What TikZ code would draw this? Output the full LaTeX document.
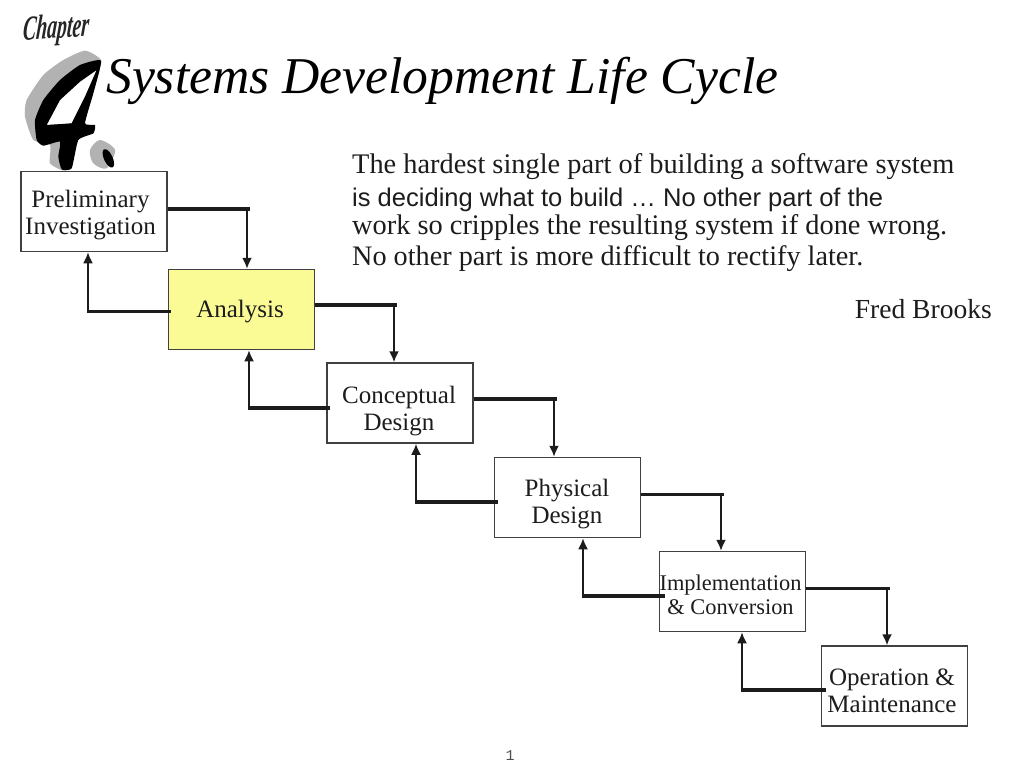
\documentclass[tikz,border=0pt]{standalone}
\usepackage{fontspec}
\usepackage{graphicx}
\setmainfont{Liberation Serif}
\newfontfamily\arialf{Liberation Sans}
\newfontfamily\monof{Liberation Mono}
\usetikzlibrary{arrows.meta,calc}
\definecolor{boxyellow}{RGB}{251,251,150}
\definecolor{ink}{RGB}{28,28,28}
\newcommand{\fitw}[2]{\resizebox{#1pt}{!}{\strut #2}}
% text of a stage: #1 sideways kern, #2 height of the top strut, #3 lines
\newcommand{\stxt}[3]{\begin{tabular}{@{}c@{}}\rule{0pt}{#2pt}#3\end{tabular}\kern#1pt}
\tikzset{
  x=1pt,y=-1pt,
  stage/.style={draw=black!75,line width=1.5pt,minimum width=146pt,minimum height=80pt,inner sep=0pt,font=\fontsize{25}{27}\selectfont,text=ink},
  heavy/.style={line width=3.2pt,ink},
  thinarrow/.style={line width=1.8pt,ink,-{Latex[length=11pt,width=10pt]}},
  quote/.style={anchor=base west,inner sep=0pt,text=ink},
}
\begin{document}
\begin{tikzpicture}
\useasboundingbox (0,0) rectangle (1024,768);
% logo, in the coordinates of a threefold enlargement
\begin{scope}[scale=1/3]
\fill[black!30] plot[smooth cycle,tension=0.35] coordinates {(75,350)(80,300)(130,225)(190,180)(255,152)(303,180)(290,240)(250,360)(225,440)(215,500)(190,512)(150,490)(150,435)(100,420)};
\fill[white] (290,210) -- (240,245) -- (180,300) -- (140,375) -- (215,370) -- (255,290) -- cycle;
\fill[black,even odd rule] plot[smooth cycle,tension=0.3] coordinates {(303,182)(240,195)(180,240)(130,300)(105,360)(110,420)(130,437)(180,425)(175,470)(185,508)(215,505)(235,420)(280,400)(285,375)(255,370)(280,280)}
  (290,210) -- (240,245) -- (180,300) -- (140,375) -- (215,370) -- (255,290) -- cycle;
\fill[black!30] plot[smooth cycle,tension=0.5] coordinates {(270,450)(300,420)(345,450)(320,505)(280,490)};
\fill[black,rotate around={25:(325,475)}] (325,475) ellipse (13 and 30);
\end{scope}
\node[inner sep=0pt,rotate=4,xslant=0.15,text=black!85] (chap) at (56,30) {\resizebox{66pt}{24pt}{\bfseries\itshape Chapter}};
% title
\node[quote,text=black] (title) at (106,93) {\fitw{672}{\itshape Systems Development Life Cycle}};
% quote
\node[quote] (q1) at (352,173.5) {\fitw{602}{The hardest single part of building a software system}};
\node[quote] (q2) at (352,206) {\fitw{531}{\arialf is deciding what to build … No other part of the}};
\node[quote] (q3) at (352,234) {\fitw{595}{work so cripples the resulting system if done wrong.}};
\node[quote] (q4) at (352,265) {\fitw{511}{No other part is more difficult to rectify later.}};
\node[quote,anchor=base east] (fb) at (992,318) {\fitw{137}{Fred Brooks}};
% stages
\node[stage] (prelim) at (94,211.5) {\stxt{7}{28}{Preliminary\\Investigation}};
\node[stage,fill=boxyellow] (analysis) at (241.5,309.5) {\stxt{3}{24}{Analysis}};
\node[stage] (concept) at (400,403) {\stxt{2}{37}{Conceptual\\Design}};
\node[stage] (phys) at (567.5,497.5) {\stxt{1}{33}{Physical\\Design}};
\node[stage,font=\fontsize{22.4}{24}\selectfont] (impl) at (732.5,591.5) {\stxt{4}{29}{Implementation\\\& Conversion}};
\node[stage] (oper) at (894.5,686) {\stxt{5}{34}{Operation \&\\Maintenance}};
% forward connectors
\coordinate (f1) at (250,209); \coordinate (f1d) at (247,209);
\coordinate (f2) at (397,305); \coordinate (f2d) at (394,305);
\coordinate (f3) at (557,399); \coordinate (f3d) at (554,399);
\coordinate (f4) at (724,494.5); \coordinate (f4d) at (721,494.5);
\coordinate (f5) at (890,588.5); \coordinate (f5d) at (887,588.5);
\draw[heavy] (prelim.east|-f1) -- (f1);
\draw[thinarrow] (f1d) -- (f1d|-analysis.north);
\draw[heavy] (analysis.east|-f2) -- (f2);
\draw[thinarrow] (f2d) -- (f2d|-concept.north);
\draw[heavy] (concept.east|-f3) -- (f3);
\draw[thinarrow] (f3d) -- (f3d|-phys.north);
\draw[heavy] (phys.east|-f4) -- (f4);
\draw[thinarrow] (f4d) -- (f4d|-impl.north);
\draw[heavy] (impl.east|-f5) -- (f5);
\draw[thinarrow] (f5d) -- (f5d|-oper.north);
% backward connectors
\coordinate (b1) at (88,311.5); \coordinate (b2) at (249,408); \coordinate (b3) at (416,502); \coordinate (b4) at (583,596); \coordinate (b5) at (742,690);
\draw[heavy] ([xshift=3pt]analysis.west|-b1) -- ([xshift=-1.4pt]b1);
\draw[thinarrow] (b1) -- (b1|-prelim.south);
\draw[heavy] ([xshift=4pt]concept.west|-b2) -- ([xshift=-1.4pt]b2);
\draw[thinarrow] (b2) -- (b2|-analysis.south);
\draw[heavy] ([xshift=4pt]phys.west|-b3) -- ([xshift=-1.4pt]b3);
\draw[thinarrow] (b3) -- (b3|-concept.south);
\draw[heavy] ([xshift=6pt]impl.west|-b4) -- ([xshift=-1.4pt]b4);
\draw[thinarrow] (b4) -- (b4|-phys.south);
\draw[heavy] ([xshift=5pt]oper.west|-b5) -- ([xshift=-1.4pt]b5);
\draw[thinarrow] (b5) -- (b5|-impl.south);
% page number
\node[inner sep=0pt,text=black!70,font=\monof\fontsize{15}{15}\selectfont] (pg) at (510,756) {1};
\end{tikzpicture}
\end{document}
